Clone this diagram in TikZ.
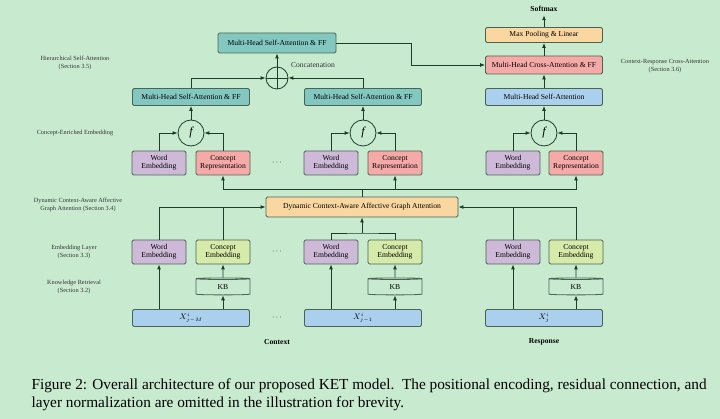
\documentclass[tikz,border=0pt]{standalone}
\usepackage{fontspec}
\setmainfont{Liberation Serif}
\usetikzlibrary{shapes.geometric,arrows.meta}
\definecolor{bg}{RGB}{200,235,208}
\definecolor{ln}{RGB}{30,60,42}
\definecolor{teal}{RGB}{130,200,192}
\definecolor{purp}{RGB}{206,186,216}
\definecolor{pink}{RGB}{246,170,168}
\definecolor{lgreen}{RGB}{214,234,170}
\definecolor{orng}{RGB}{250,214,160}
\definecolor{lblue}{RGB}{170,208,238}
\begin{document}
\begin{tikzpicture}[x=1pt,y=-1pt,
 box/.style={draw=ln!80,line width=0.8pt,rounded corners=1.5pt,align=center,font=\fontsize{7.6}{8}\selectfont,inner sep=0pt},
 wide/.style={box,minimum width=117pt,minimum height=17pt},
 small/.style={box,minimum width=54pt,minimum height=24pt},
 kb/.style={draw=ln!80,line width=0.8pt,cylinder,shape border rotate=90,aspect=0.15,minimum width=54pt,minimum height=17pt,inner sep=0pt,font=\fontsize{7.6}{7.6}\selectfont},
 fc/.style={circle,draw=ln,line width=0.8pt,minimum size=26pt,inner sep=0pt,font=\large\itshape},
 lab/.style={font=\fontsize{6.3}{7.5}\selectfont,align=center,text=black!80},
 ar/.style={draw=ln,line width=0.9pt,-{Latex[length=5pt,width=4pt]}},
 pl/.style={draw=ln,line width=0.9pt}]
\fill[bg] (0,0) rectangle (720,419);
\useasboundingbox (0,0) rectangle (720,419);
% top
\node[wide,fill=teal,minimum width=118pt,minimum height=20pt] (top) at (277,43) {Multi-Head Self-Attention \& FF};
\node[circle,draw=ln,line width=0.8pt,minimum size=22pt,inner sep=0pt] (cat) at (277,78) {};
\draw[ln,line width=0.8pt] (cat.north)--(cat.south) (cat.west)--(cat.east);
\node[lab,font=\fontsize{7.6}{7.6}\selectfont] (catl) at (313,65) {Concatenation};
\node[wide,fill=teal] (m1) at (191,97) {Multi-Head Self-Attention \& FF};
\node[wide,fill=teal] (m2) at (363,97) {Multi-Head Self-Attention \& FF};
\node[fc] (f1) at (191,133) {f};
\node[fc] (f2) at (363,133) {f};
\node[fc] (f3) at (544,133) {f};
\node[small,fill=purp] (w1) at (159,163) {Word\\Embedding};
\node[small,fill=pink] (c1) at (223,163) {Concept\\Representation};
\node[small,fill=purp] (w2) at (331,163) {Word\\Embedding};
\node[small,fill=pink] (c2) at (395,163) {Concept\\Representation};
\node[small,fill=purp] (w3) at (513,163) {Word\\Embedding};
\node[small,fill=pink] (c3) at (576,163) {Concept\\Representation};
% right column
\node[font=\fontsize{7.6}{7.6}\selectfont\bfseries] (sm) at (544,9) {Softmax};
\node[wide,fill=orng,minimum height=15pt] (mp) at (544,35) {Max Pooling \& Linear};
\node[wide,fill=pink,minimum height=18pt] (ca) at (544,65) {Multi-Head Cross-Attention \& FF};
\node[wide,fill=lblue] (m3) at (544,97) {Multi-Head Self-Attention};
% dcaaga
\node[box,fill=orng,minimum width=192pt,minimum height=20pt] (dg) at (362,207) {Dynamic Context-Aware Affective Graph Attention};
\node[small,fill=purp] (ew1) at (159,252) {Word\\Embedding};
\node[small,fill=lgreen] (ec1) at (223,252) {Concept\\Embedding};
\node[small,fill=purp] (ew2) at (331,252) {Word\\Embedding};
\node[small,fill=lgreen] (ec2) at (395,252) {Concept\\Embedding};
\node[small,fill=purp] (ew3) at (513,252) {Word\\Embedding};
\node[small,fill=lgreen] (ec3) at (576,252) {Concept\\Embedding};
\node[kb] (kb1) at (223,287) {KB};
\node[kb] (kb2) at (395,287) {KB};
\node[kb] (kb3) at (576,287) {KB};
\node[wide,fill=lblue] (x1) at (191,318) {$X^{i}_{j-M}$};
\node[wide,fill=lblue] (x2) at (363,318) {$X^{i}_{j-1}$};
\node[wide,fill=lblue] (x3) at (544,318) {$X^{i}_{j}$};
\node (d1) at (277,163) {\footnotesize$\cdots$};
\node (d2) at (277,252) {\footnotesize$\cdots$};
\node (d3) at (277,318) {\footnotesize$\cdots$};
\node[font=\fontsize{7.6}{7.6}\selectfont\bfseries] (ctx) at (277,342) {Context};
\node[font=\fontsize{7.6}{7.6}\selectfont\bfseries] (rsp) at (544,342) {Response};
% left labels
\node[lab] (l1) at (75,63) {Hierarchical Self-Attention\\(Section 3.5)};
\node[lab] (l2) at (75,133) {Concept-Enriched Embedding};
\node[lab] (l3) at (78,205) {Dynamic Context-Aware Affective\\Graph Attention (Section 3.4)};
\node[lab] (l4) at (74,252) {Embedding Layer\\(Section 3.3)};
\node[lab] (l5) at (74,287) {Knowledge Retrieval\\(Section 3.2)};
\node[lab] (l6) at (665,66) {Context-Response Cross-Attention\\(Section 3.6)};
% caption
\node[anchor=west,font=\fontsize{15.3}{18.5}\selectfont,align=left] (cap) at (28,395) {Figure 2: Overall architecture of our proposed KET model.\ \ The positional encoding, residual connection, and\\layer normalization are omitted in the illustration for brevity.};
% connectors
\draw[ar] (cat)--(top);
\draw[ar] (m1.north) |- (cat.west);
\draw[ar] (m2.north) |- (cat.east);
\draw[ar] (top.east) -| (411,65) -- (ca.west);
\draw[ar] (f1)--(m1); \draw[ar] (f2)--(m2); \draw[ar] (f3)--(m3);
\draw[ar] (w1.north) |- (f1.west); \draw[ar] (c1.north) |- (f1.east);
\draw[ar] (w2.north) |- (f2.west); \draw[ar] (c2.north) |- (f2.east);
\draw[ar] (w3.north) |- (f3.west); \draw[ar] (c3.north) |- (f3.east);
\draw[ar] (m3)--(ca); \draw[ar] (ca)--(mp); \draw[ar] (mp)--(sm);
\draw[pl] (dg.north) -- (362,189);
\draw[ar] (362,189) -| (c1.south);
\draw[ar] (362,189) -| (c2.south);
\draw[ar] (362,189) -| (c3.south);
\draw[ar] (ew1.north) |- (dg.west);
\draw[pl] (ec1.north) -- (223,207);
\draw[pl] (ew2.north) |- (362,233) -| (ec2.north);
\draw[ar] (362,233) -- (dg.south);
\draw[ar] (ew3.north) |- (dg.east);
\draw[pl] (ec3.north) |- (513,207);
\draw[ar] (x1.north -| ew1) -- (ew1.south);
\draw[ar] (x1.north -| kb1) -- (kb1.south);
\draw[ar] (kb1.north) -- (ec1.south);
\draw[ar] (x2.north -| ew2) -- (ew2.south);
\draw[ar] (x2.north -| kb2) -- (kb2.south);
\draw[ar] (kb2.north) -- (ec2.south);
\draw[ar] (x3.north -| ew3) -- (ew3.south);
\draw[ar] (x3.north -| kb3) -- (kb3.south);
\draw[ar] (kb3.north) -- (ec3.south);
\end{tikzpicture}
\end{document}
